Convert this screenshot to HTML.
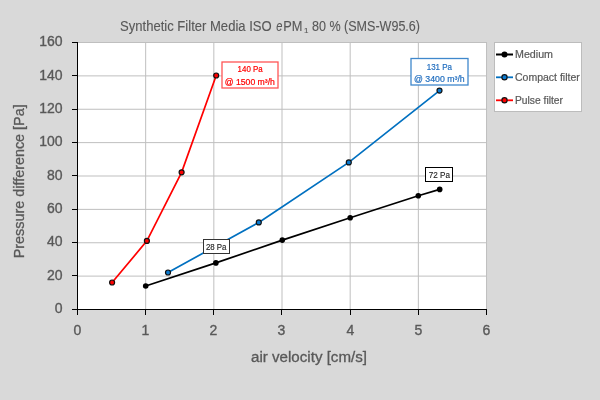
<!DOCTYPE html>
<html><head><meta charset="utf-8">
<style>
html,body{margin:0;padding:0;background:#d9d9d9;width:600px;height:400px;overflow:hidden}
svg{display:block;will-change:transform}
text{font-family:"Liberation Sans",sans-serif;stroke:currentColor}
</style></head>
<body>
<svg width="600" height="400" viewBox="0 0 600 400">
<rect x="0" y="0" width="600" height="400" fill="#d9d9d9"/>
<!-- plot area -->
<rect x="77" y="42" width="410" height="268" fill="#ffffff"/>
<!-- gridlines -->
<g stroke="#bfbfbf" stroke-width="1">
<line x1="77" y1="276.12" x2="487" y2="276.12"/>
<line x1="77" y1="242.75" x2="487" y2="242.75"/>
<line x1="77" y1="209.38" x2="487" y2="209.38"/>
<line x1="77" y1="176.00" x2="487" y2="176.00"/>
<line x1="77" y1="142.62" x2="487" y2="142.62"/>
<line x1="77" y1="109.25" x2="487" y2="109.25"/>
<line x1="77" y1="75.88" x2="487" y2="75.88"/>
<line x1="77" y1="42.50" x2="487" y2="42.50"/>
<line x1="145.67" y1="42" x2="145.67" y2="309"/>
<line x1="213.84" y1="42" x2="213.84" y2="309"/>
<line x1="282.01" y1="42" x2="282.01" y2="309"/>
<line x1="350.18" y1="42" x2="350.18" y2="309"/>
<line x1="418.35" y1="42" x2="418.35" y2="309"/>
<line x1="486.52" y1="42" x2="486.52" y2="309"/>
</g>
<!-- axes -->
<g stroke="#000000" stroke-width="1" shape-rendering="crispEdges">
<line x1="77.5" y1="42" x2="77.5" y2="310"/>
<line x1="77" y1="309.5" x2="487" y2="309.5"/>
<line x1="72" y1="42.5" x2="77" y2="42.5"/>
<line x1="72" y1="75.5" x2="77" y2="75.5"/>
<line x1="72" y1="109.5" x2="77" y2="109.5"/>
<line x1="72" y1="142.5" x2="77" y2="142.5"/>
<line x1="72" y1="175.5" x2="77" y2="175.5"/>
<line x1="72" y1="209.5" x2="77" y2="209.5"/>
<line x1="72" y1="242.5" x2="77" y2="242.5"/>
<line x1="72" y1="275.5" x2="77" y2="275.5"/>
<line x1="72" y1="309.5" x2="77" y2="309.5"/>
<line x1="77.5" y1="310" x2="77.5" y2="315"/>
<line x1="145.5" y1="310" x2="145.5" y2="315"/>
<line x1="213.5" y1="310" x2="213.5" y2="315"/>
<line x1="281.5" y1="310" x2="281.5" y2="315"/>
<line x1="350.5" y1="310" x2="350.5" y2="315"/>
<line x1="418.5" y1="310" x2="418.5" y2="315"/>
<line x1="486.5" y1="310" x2="486.5" y2="315"/>
</g>
<!-- y labels -->
<g fill="#595959" color="#595959" style="stroke-width:0.35px" font-size="14" text-anchor="end">
<text x="62.5" y="46.3">160</text>
<text x="62.5" y="79.8">140</text>
<text x="62.5" y="113.3">120</text>
<text x="62.5" y="146.3">100</text>
<text x="62.5" y="179.8">80</text>
<text x="62.5" y="213.3">60</text>
<text x="62.5" y="246.3">40</text>
<text x="62.5" y="279.8">20</text>
<text x="62.5" y="313.3">0</text>
</g>
<!-- x labels -->
<g fill="#595959" color="#595959" style="stroke-width:0.35px" font-size="14" text-anchor="middle">
<text x="77.5" y="335">0</text>
<text x="145.5" y="335">1</text>
<text x="213.5" y="335">2</text>
<text x="281.5" y="335">3</text>
<text x="350.5" y="335">4</text>
<text x="418.5" y="335">5</text>
<text x="486.5" y="335">6</text>
</g>
<!-- axis titles -->
<text x="251" y="362" fill="#595959" color="#595959" style="stroke-width:0.3px" font-size="14" textLength="116" lengthAdjust="spacingAndGlyphs">air velocity [cm/s]</text>
<text transform="translate(23.6,258.3) rotate(-90)" fill="#595959" color="#595959" style="stroke-width:0.3px" font-size="14" textLength="154" lengthAdjust="spacingAndGlyphs">Pressure difference [Pa]</text>
<!-- title -->
<g fill="#595959" color="#595959" font-size="13.8" style="stroke-width:0.12px">
<text x="120" y="30.5" textLength="151.7" lengthAdjust="spacingAndGlyphs">Synthetic Filter Media ISO</text>
<text x="276.3" y="30.5" font-style="italic" textLength="6.2" lengthAdjust="spacingAndGlyphs">e</text>
<text x="283.3" y="30.5" textLength="19.2" lengthAdjust="spacingAndGlyphs">PM</text>
<text x="303.9" y="33.4" font-size="8">1</text>
<text x="312" y="30.5" textLength="108" lengthAdjust="spacingAndGlyphs">80 % (SMS-W95.6)</text>
</g>
<!-- series: medium -->
<polyline points="145.7,286 215.9,262.9 282.3,240.1 350.2,217.8 418.3,195.7 439.7,189.4" fill="none" stroke="#000" stroke-width="1.7"/>
<polyline points="168,272.5 258.8,222.4 348.8,162.4 439.5,90.6" fill="none" stroke="#0070c0" stroke-width="1.7"/>
<polyline points="112.1,282.5 146.9,240.9 181.6,172.3 216.2,75.5" fill="none" stroke="#ff0000" stroke-width="1.7"/>
<g fill="#000">
<circle cx="145.7" cy="286" r="2.8"/>
<circle cx="215.9" cy="262.9" r="2.8"/>
<circle cx="282.3" cy="240.1" r="2.8"/>
<circle cx="350.2" cy="217.8" r="2.8"/>
<circle cx="418.3" cy="195.7" r="2.8"/>
<circle cx="439.7" cy="189.4" r="2.8"/>
</g>
<g fill="#0a7ad0" stroke="#111" stroke-width="1.2">
<circle cx="168" cy="272.5" r="2.5"/>
<circle cx="258.8" cy="222.4" r="2.5"/>
<circle cx="348.8" cy="162.4" r="2.5"/>
<circle cx="439.5" cy="90.6" r="2.5"/>
</g>
<g fill="#ff0000" stroke="#111" stroke-width="1.2">
<circle cx="112.1" cy="282.5" r="2.5"/>
<circle cx="146.9" cy="240.9" r="2.5"/>
<circle cx="181.6" cy="172.3" r="2.5"/>
<circle cx="216.2" cy="75.5" r="2.5"/>
</g>

<!-- data labels -->
<rect x="222" y="62" width="56" height="26" fill="#fff" stroke="#ff5555" stroke-width="1.3"/>
<text x="237.6" y="71.8" fill="#ff0000" color="#ff0000" style="stroke-width:0.2px" font-size="8.6" textLength="25.1" lengthAdjust="spacingAndGlyphs">140 Pa</text>
<text x="224.8" y="84.6" fill="#ff0000" color="#ff0000" style="stroke-width:0.2px" font-size="8.6" textLength="50.1" lengthAdjust="spacingAndGlyphs">@ 1500 m³/h</text>

<rect x="411" y="58.5" width="57" height="26.5" fill="#fff" stroke="#3f88cc" stroke-width="1.3"/>
<text x="426.7" y="70" fill="#2470c0" color="#2470c0" style="stroke-width:0.2px" font-size="8.6" textLength="25.3" lengthAdjust="spacingAndGlyphs">131 Pa</text>
<text x="414" y="82" fill="#2470c0" color="#2470c0" style="stroke-width:0.2px" font-size="8.6" textLength="50.7" lengthAdjust="spacingAndGlyphs">@ 3400 m³/h</text>

<rect x="425.5" y="167.5" width="27" height="14" fill="#fff" stroke="#000" stroke-width="1"/>
<text x="428.8" y="178" fill="#262626" color="#262626" style="stroke-width:0.15px" font-size="8.8" textLength="21.2" lengthAdjust="spacingAndGlyphs">72 Pa</text>

<rect x="203.5" y="239.5" width="26" height="14" fill="#fff" stroke="#333" stroke-width="1"/>
<text x="205.9" y="249.8" fill="#262626" color="#262626" style="stroke-width:0.15px" font-size="8.8" textLength="20.6" lengthAdjust="spacingAndGlyphs">28 Pa</text>

<!-- legend -->
<rect x="494.5" y="42.5" width="87" height="69" fill="#fff" stroke="#bcbcbc" stroke-width="1"/>
<line x1="496" y1="54.5" x2="513" y2="54.5" stroke="#000" stroke-width="2"/>
<circle cx="504.5" cy="54.5" r="3" fill="#000"/>
<line x1="496" y1="77.3" x2="513" y2="77.3" stroke="#0070c0" stroke-width="1.8"/>
<circle cx="504.5" cy="77.3" r="2.6" fill="#0a7ad0" stroke="#111" stroke-width="1.2"/>
<line x1="496" y1="100.3" x2="513" y2="100.3" stroke="#ff0000" stroke-width="1.8"/>
<circle cx="504.5" cy="100.3" r="2.6" fill="#ff0000" stroke="#111" stroke-width="1.2"/>
<g fill="#595959" color="#595959" font-size="10.2" style="stroke-width:0.2px">
<text x="515" y="58.1" textLength="38" lengthAdjust="spacingAndGlyphs">Medium</text>
<text x="515" y="80.9" textLength="64.8" lengthAdjust="spacingAndGlyphs">Compact filter</text>
<text x="515" y="103.6" textLength="48" lengthAdjust="spacingAndGlyphs">Pulse filter</text>
</g>
</svg>
</body></html>
